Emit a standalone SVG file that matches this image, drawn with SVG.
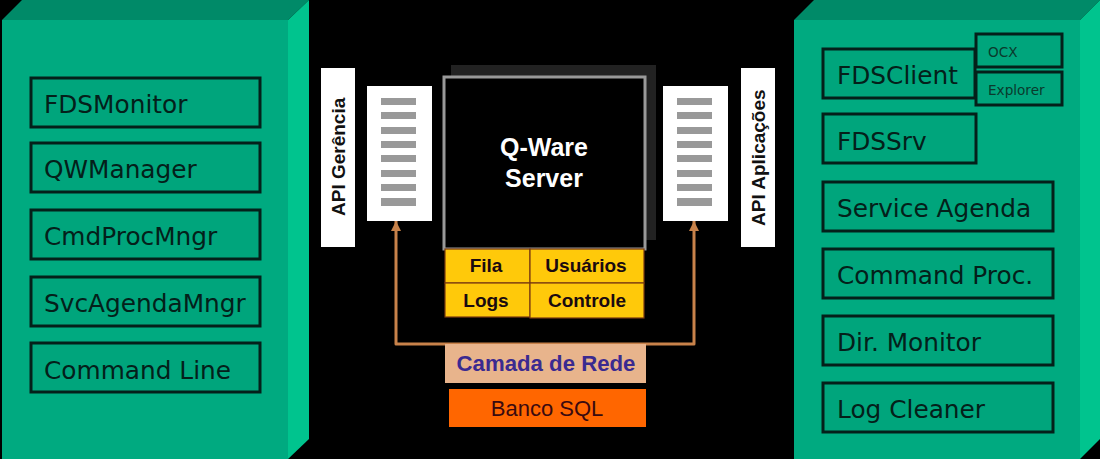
<svg xmlns="http://www.w3.org/2000/svg" width="1100" height="459" viewBox="0 0 1100 459">
<style>
.front{fill:#00aa80}
.top{fill:#008a68}
.side{fill:#00c48e}
.box{fill:#00a57c;stroke:#04201a;stroke-width:3}
.t{font-family:"DejaVu Sans",sans-serif;fill:#04201a;font-size:24.8px}
.s{font-family:"DejaVu Sans",sans-serif;fill:#0a3a2c;font-size:13.6px}
.b{font-family:"Liberation Sans",Arial,sans-serif;font-weight:bold}
.cell{fill:#ffc90a;stroke:#7a3a10;stroke-width:1.2}
.bar{fill:#999}
.white{fill:#fff}
.k{fill:#1a0a10;font-size:19px;text-anchor:middle}
</style>
<defs>
<marker id="arrow" markerUnits="userSpaceOnUse" markerWidth="11" markerHeight="11" refX="10" refY="5" orient="auto"><path d="M0 0L10 5L0 10z" fill="#c8824a"/></marker>
<g id="bars"><rect class="bar" width="35" height="7" y="98"/><rect class="bar" width="35" height="7" y="112"/><rect class="bar" width="35" height="7" y="127"/><rect class="bar" width="35" height="7" y="141"/><rect class="bar" width="35" height="7" y="155"/><rect class="bar" width="35" height="7" y="170"/><rect class="bar" width="35" height="7" y="184"/><rect class="bar" width="35" height="8" y="198"/></g>
</defs>
<rect width="1100" height="459" fill="#000"/>
<g id="left-block">
<polygon class="top" points="2,20 22,0 309,0 288,20"/>
<polygon class="side" points="288,20 309,0 309,439 288,459"/>
<rect class="front" x="2" y="20" width="286" height="439"/>
</g>
<g id="right-block">
<polygon class="top" points="794,20 814,0 1100,0 1080,20"/>
<polygon class="side" points="1080,20 1100,0 1100,439 1080,459"/>
<rect class="front" x="794" y="20" width="286" height="439"/>
</g>
<g id="FDSMonitor"><rect class="box" x="31" y="78" width="229" height="49"/><text class="t" x="44" y="113">FDSMonitor</text></g>
<g id="QWManager"><rect class="box" x="31" y="143" width="229" height="49"/><text class="t" x="44" y="178">QWManager</text></g>
<g id="CmdProcMngr"><rect class="box" x="31" y="210" width="229" height="49"/><text class="t" x="44" y="245">CmdProcMngr</text></g>
<g id="SvcAgendaMngr"><rect class="box" x="31" y="277" width="229" height="49"/><text class="t" x="44" y="312">SvcAgendaMngr</text></g>
<g id="CommandLine"><rect class="box" x="31" y="343" width="229" height="49"/><text class="t" x="44" y="379">Command Line</text></g>
<g id="FDSClient"><rect class="box" x="823" y="49" width="152" height="49"/><text class="t" x="837" y="84">FDSClient</text></g>
<g id="OCX"><rect class="box" x="976" y="34" width="86" height="33"/><text class="s" x="988" y="57">OCX</text></g>
<g id="Explorer"><rect class="box" x="976" y="72" width="86" height="33"/><text class="s" x="988" y="95">Explorer</text></g>
<g id="FDSSrv"><rect class="box" x="823" y="114" width="153" height="49"/><text class="t" x="837" y="150">FDSSrv</text></g>
<g id="ServiceAgenda"><rect class="box" x="823" y="182" width="230" height="49"/><text class="t" x="837" y="217">Service Agenda</text></g>
<g id="CommandProc"><rect class="box" x="823" y="249" width="230" height="49"/><text class="t" x="837" y="284">Command Proc.</text></g>
<g id="DirMonitor"><rect class="box" x="823" y="316" width="230" height="49"/><text class="t" x="837" y="351">Dir. Monitor</text></g>
<g id="LogCleaner"><rect class="box" x="823" y="383" width="230" height="49"/><text class="t" x="837" y="418">Log Cleaner</text></g>
<g id="api-gerencia"><rect class="white" x="321" y="68" width="34" height="179"/><text class="b" transform="translate(345 216) rotate(-90)" font-size="19" fill="#111">API Gerência</text></g>
<g id="api-aplicacoes"><rect class="white" x="741" y="68" width="34" height="179"/><text class="b" transform="translate(765 226) rotate(-90)" font-size="19" fill="#111">API Aplicações</text></g>
<g id="queue-left"><rect class="white" x="367" y="86" width="65" height="135"/><use href="#bars" x="381"/></g>
<g id="queue-right"><rect class="white" x="663" y="86" width="65" height="135"/><use href="#bars" x="677"/></g>
<g id="server">
<rect x="451" y="65" width="205" height="175" fill="#222"/>
<rect x="444" y="77" width="201" height="172" fill="#000" stroke="#999" stroke-width="3"/>
<text class="b" x="544" y="156" font-size="25" fill="#fff" text-anchor="middle">Q-Ware</text>
<text class="b" x="544" y="187" font-size="25" fill="#fff" text-anchor="middle">Server</text>
</g>
<g id="Fila"><rect class="cell" x="445" y="249" width="85" height="34"/><text class="b k" x="486" y="272">Fila</text></g>
<g id="Usuarios"><rect class="cell" x="530" y="249" width="114" height="34"/><text class="b k" x="586" y="272">Usuários</text></g>
<g id="Logs"><rect class="cell" x="445" y="283" width="85" height="34"/><text class="b k" x="486" y="307">Logs</text></g>
<g id="Controle"><rect class="cell" x="530" y="283" width="114" height="35"/><text class="b k" x="587" y="307">Controle</text></g>
<g id="connectors"><path d="M545 344H694V221" fill="none" stroke="#c8824a" stroke-width="3" stroke-linejoin="round" marker-end="url(#arrow)"/>
<path d="M545 344H396V221" fill="none" stroke="#c8824a" stroke-width="3" stroke-linejoin="round" marker-end="url(#arrow)"/></g>
<g id="camada"><rect x="445" y="344" width="201" height="39" fill="#e8b48c"/><text class="b" x="546" y="371" font-size="22.2" fill="#3a2a90" text-anchor="middle">Camada de Rede</text></g>
<g id="banco"><rect x="449" y="389" width="197" height="38" fill="#ff6600"/><text x="547" y="416" font-size="22" font-family="Liberation Sans, Arial, sans-serif" fill="#3a0a10" text-anchor="middle">Banco SQL</text></g>
</svg>
